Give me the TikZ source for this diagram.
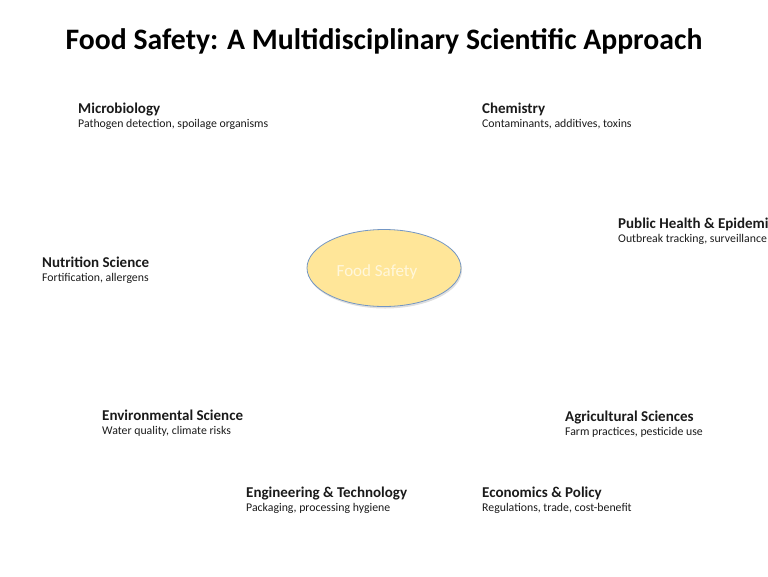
\documentclass[tikz,border=0pt]{standalone}
\usepackage{fontspec}
\setmainfont{Carlito}
\usetikzlibrary{shapes.geometric, positioning, shadows}
\definecolor{hubfill}{HTML}{FFE699}
\definecolor{hubline}{HTML}{7396C4}
\definecolor{hubtext}{HTML}{FFF7DC}
\definecolor{ink}{HTML}{1A1A1A}
\tikzstyle{title} = [anchor=base, inner sep=0pt,
font=\fontsize{29.7}{34}\selectfont\bfseries,
text=black]
\tikzstyle{hub} = [ellipse,
minimum width=154pt,
minimum height=77pt,
inner sep=0pt,
text height=17pt,
text depth=0pt,
draw=hubline,
line width=0.8pt,
fill=hubfill,
text=hubtext,
font=\fontsize{17}{20}\selectfont,
drop shadow={shadow xshift=1pt, shadow yshift=-2pt, opacity=0.25}]
\tikzstyle{field} = [anchor=base west,
inner sep=0pt,
text height=11.5pt,
text depth=3pt,
font=\fontsize{15}{18}\selectfont\bfseries,
text=ink]
\tikzstyle{detail} = [inner sep=0pt,
text height=9pt,
text depth=2.5pt,
font=\fontsize{11.8}{14}\selectfont,
text=ink]
\begin{document}
\begin{tikzpicture}[x=1pt, y=-1pt]

\useasboundingbox (0,0) rectangle (768,576);
\clip (0,0) rectangle (768,576);

\node (head) [title] at (384,49) {Food Safety: A Multidisciplinary Scientific Approach};

\node (core) [hub] at (384,268) {\kern-14pt Food Safety};

\node (micro) [field] at (78,113) {Microbiology};
\node (microd) [detail, below=2pt of micro.south west, anchor=north west] {Pathogen detection, spoilage organisms};

\node (chem) [field] at (482,113) {Chemistry};
\node (chemd) [detail, below=2pt of chem.south west, anchor=north west] {Contaminants, additives, toxins};

\node (health) [field] at (618,228) {Public Health \& Epidemiology};
\node (healthd) [detail, below=2pt of health.south west, anchor=north west] {Outbreak tracking, surveillance};

\node (nutri) [field] at (42,267) {Nutrition Science};
\node (nutrid) [detail, below=2pt of nutri.south west, anchor=north west] {Fortification, allergens};

\node (envir) [field] at (102,420) {Environmental Science};
\node (envird) [detail, below=2pt of envir.south west, anchor=north west] {Water quality, climate risks};

\node (agri) [field] at (565,421) {Agricultural Sciences};
\node (agrid) [detail, below=2pt of agri.south west, anchor=north west] {Farm practices, pesticide use};

\node (engin) [field] at (246,497) {Engineering \& Technology};
\node (engind) [detail, below=2pt of engin.south west, anchor=north west] {Packaging, processing hygiene};

\node (econ) [field] at (482,497) {Economics \& Policy};
\node (econd) [detail, below=2pt of econ.south west, anchor=north west] {Regulations, trade, cost-benefit};

\end{tikzpicture}
\end{document}
